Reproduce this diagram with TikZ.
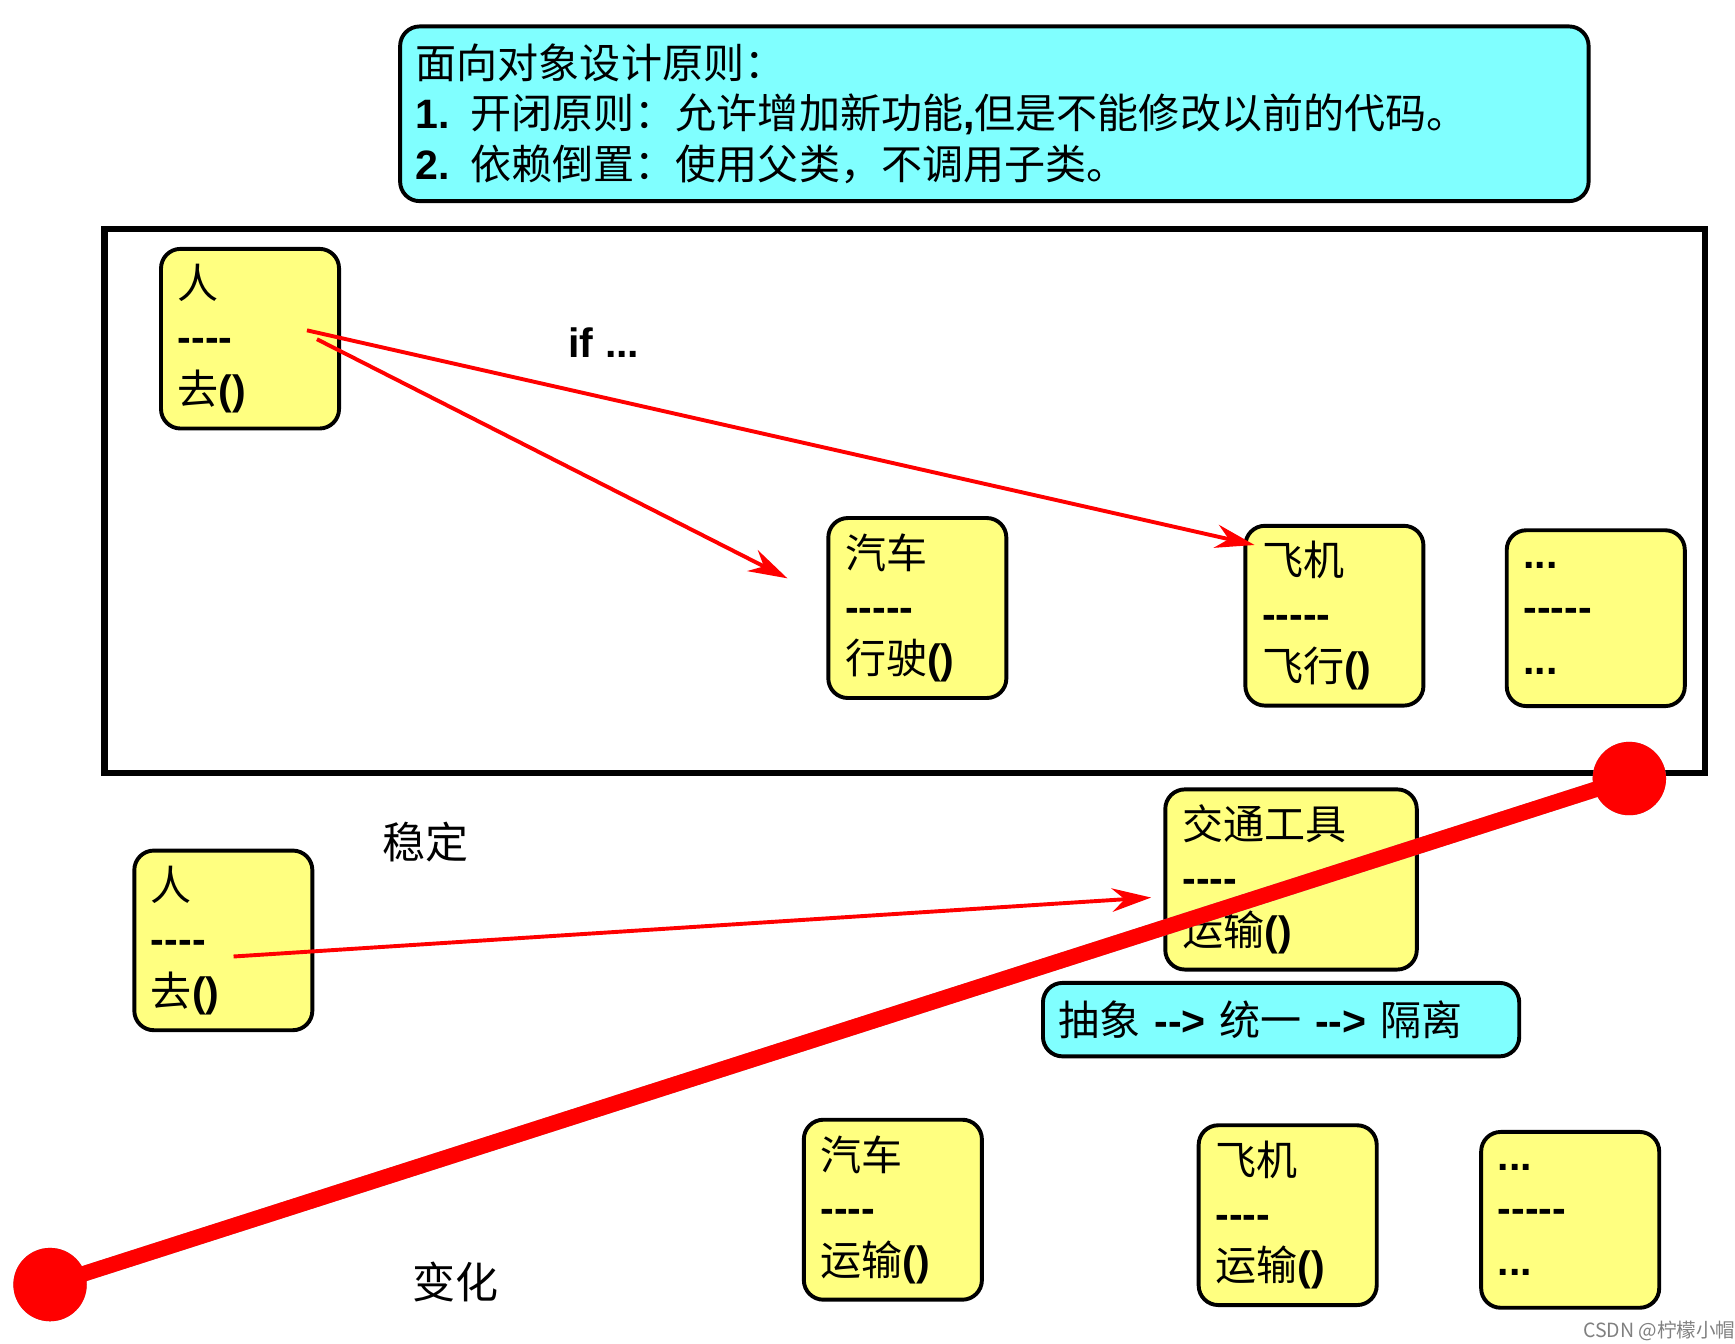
\documentclass[tikz,border=0pt]{standalone}
\usepackage{fontspec}
\setmainfont{Noto Sans CJK SC}
\newfontfamily\lb{Liberation Sans}
\newcommand{\B}[1]{{\lb\bfseries #1}}
\definecolor{cy}{HTML}{80FFFF}
\definecolor{yl}{HTML}{FFFF80}
\usetikzlibrary{arrows.meta}
\begin{document}
\begin{tikzpicture}[x=0.01cm,y=-0.01cm,
  ybox/.style={draw=black,line width=1pt,fill=yl,rounded corners=5pt,anchor=north west,
    minimum width=1.6cm,minimum height=1.58cm,text width=1.3cm,align=left,inner sep=0.14cm,
    font=\fontsize{10.5}{13.5}\selectfont},
  cbox/.style={draw=black,line width=1pt,fill=cy,rounded corners=5pt,anchor=north west,align=left,inner sep=0.14cm},
  rarr/.style={red,line width=1pt,-{Stealth[length=10pt,width=6pt]}}]
\useasboundingbox (0,0) rectangle (1560,1208);
\node[cbox,text width=10.4cm,minimum height=1.57cm,font=\fontsize{10.5}{13}\selectfont] (top) at (358,22)
  {面向对象设计原则：\\ \B{1.} 开闭原则：允许增加新功能\B{,}但是不能修改以前的代码。\\ \B{2.} 依赖倒置：使用父类，不调用子类。};
\draw[line width=1.6pt] (94,206) rectangle (1533,695);
\node[ybox] (p1) at (143,222) {人\\ \B{----}\\ 去\B{()}};
\node[ybox] (c1) at (743,464) {汽车\\ \B{-----}\\ 行驶\B{()}};
\node[ybox] (f1) at (1118,471) {飞机\\ \B{-----}\\ 飞行\B{()}};
\node[ybox] (d1) at (1353,475) {\B{...}\\ \B{-----}\\ \B{...}};
\node[font=\lb\bfseries\fontsize{10.5}{12}\selectfont] (if) at (543,308) {if ...};
\coordinate (a1) at (276,297); \coordinate (a2) at (285,305);
\coordinate (t1) at (1128,490); \coordinate (t2) at (708,520);
\draw[rarr] (a1) -- (t1);
\draw[rarr] (a2) -- (t2);
\node[font=\fontsize{11}{13}\selectfont] (wd) at (383,757) {稳定};
\node[font=\fontsize{11}{13}\selectfont] (bh) at (410,1153) {变化};
\node[ybox] (p2) at (119,763) {人\\ \B{----}\\ 去\B{()}};
\node[ybox,minimum width=2.26cm,text width=1.95cm] (jt) at (1046,708) {交通工具\\ \B{----}\\ 运输\B{()}};
\node[cbox,text width=4.0cm,minimum height=0.66cm,font=\fontsize{10.5}{13}\selectfont] (cx) at (936,882) {抽象 \B{-->} 统一 \B{-->} 隔离};
\node[ybox] (c2) at (721,1005) {汽车\\ \B{----}\\ 运输\B{()}};
\node[ybox] (f2) at (1076,1010) {飞机\\ \B{----}\\ 运输\B{()}};
\node[ybox] (d2) at (1330,1016) {\B{...}\\ \B{-----}\\ \B{...}};
\coordinate (b1) at (210,860); \coordinate (b2) at (1035,807);
\draw[rarr] (b1) -- (b2);
\coordinate (e1) at (45,1155); \coordinate (e2) at (1465,700);
\begin{scope}[shift={(4,5)}]
\draw[black!40,line width=0.14cm] (e1) -- (e2);
\fill[black!40] (e1) circle (33) (e2) circle (33);
\end{scope}
\draw[red,line width=0.14cm] (e1) -- (e2);
\fill[red] (e1) circle (33) (e2) circle (33);
\node[gray,font=\fontsize{5}{6}\selectfont] (wm) at (1492,1197) {CSDN @柠檬小帽};
\end{tikzpicture}
\end{document}
